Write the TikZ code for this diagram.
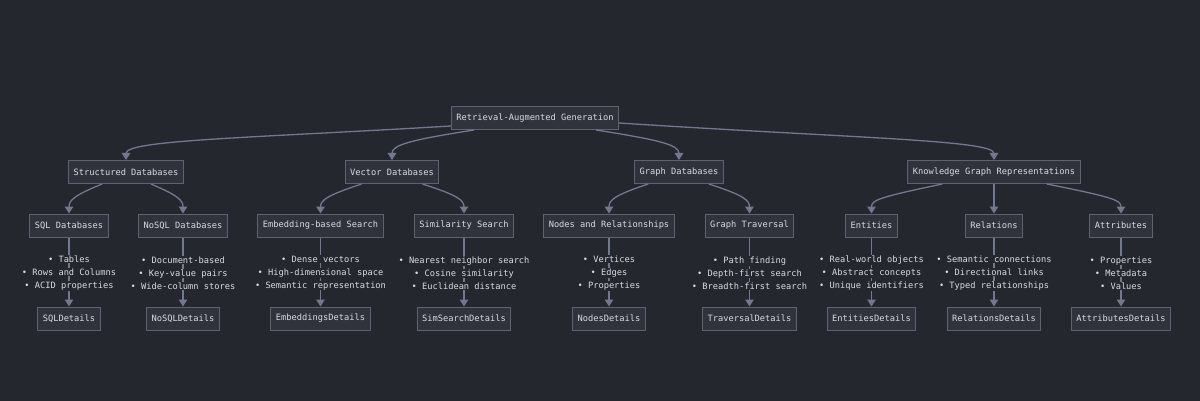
\documentclass[tikz,border=0pt]{standalone}
\usepackage{fontspec}
\setmonofont{DejaVu Sans Mono}
\usetikzlibrary{arrows.meta,calc}
\definecolor{bg}{HTML}{25272E}
\definecolor{boxfill}{HTML}{30323C}
\definecolor{boxline}{HTML}{5E6272}
\definecolor{txt}{HTML}{DADCE4}
\definecolor{edge}{HTML}{727890}
\setlength\fboxsep{0.6pt}
\newcommand\lbl[1]{\colorbox{bg}{#1}}
\tikzset{
  box/.style={draw=boxline, fill=boxfill, line width=1pt, text=txt,
    inner xsep=5pt, inner ysep=0pt, minimum height=23pt,
    font=\fontsize{8.7}{13}\selectfont\ttfamily},
  conn/.style={draw=edge, line width=1.3pt,
    -{Triangle[length=7pt,width=8.5pt]}},
  lbltext/.style={text=txt, align=center, inner sep=0pt,
    font=\fontsize{8.7}{13}\selectfont\ttfamily}
}
\begin{document}
\begin{tikzpicture}[x=1pt,y=-1pt]
\fill[bg] (0,0) rectangle (1200,401);
\useasboundingbox (0,0) rectangle (1200,401);
% nodes
\node[box] (root) at (535,118) {Retrieval-Augmented Generation};
\node[box] (sd) at (126,172) {Structured Databases};
\node[box] (vd) at (392,172) {Vector Databases};
\node[box] (gd) at (679,172) {Graph Databases};
\node[box] (kg) at (994,172) {Knowledge Graph Representations};
\node[box] (sql) at (69,225.5) {SQL Databases};
\node[box] (nosql) at (183,225.5) {NoSQL Databases};
\node[box] (emb) at (320.5,225.5) {Embedding-based Search};
\node[box] (sim) at (464,225.5) {Similarity Search};
\node[box] (nodes) at (609,225.5) {Nodes and Relationships};
\node[box] (trav) at (749.5,225.5) {Graph Traversal};
\node[box] (ent) at (871.5,225.5) {Entities};
\node[box] (rel) at (994,225.5) {Relations};
\node[box] (attr) at (1121,225.5) {Attributes};
\node[box] (sqld) at (69,318.5) {SQLDetails};
\node[box] (nosqld) at (183,318.5) {NoSQLDetails};
\node[box] (embd) at (320.5,318.5) {EmbeddingsDetails};
\node[box] (simd) at (464,318.5) {SimSearchDetails};
\node[box] (nodesd) at (609,318.5) {NodesDetails};
\node[box] (travd) at (749.5,318.5) {TraversalDetails};
\node[box] (entd) at (871.5,318.5) {EntitiesDetails};
\node[box] (reld) at (994,318.5) {RelationsDetails};
\node[box] (attrd) at (1121,318.5) {AttributesDetails};
% edges level 0 -> 1
\draw[conn] ($(root.west)+(0,8)$) .. controls (250,138) and (126,140) .. (sd.north);
\draw[conn] ([xshift=23pt]root.south west) .. controls (410,140) and (392,145) .. (vd.north);
\draw[conn] ([xshift=-23pt]root.south east) .. controls (660,140) and (679,145) .. (gd.north);
\draw[conn] ($(root.east)+(0,5)$) .. controls (850,138) and (994,140) .. (kg.north);
% level 1 -> 2
\draw[conn] ([xshift=34pt]sd.south west) .. controls (75,195) and (69,200) .. (sql.north);
\draw[conn] ([xshift=-33pt]sd.south east) .. controls (177,195) and (183,200) .. (nosql.north);
\draw[conn] ([xshift=17pt]vd.south west) .. controls (328,195) and (320.5,200) .. (emb.north);
\draw[conn] ([xshift=-17pt]vd.south east) .. controls (457,195) and (464,200) .. (sim.north);
\draw[conn] ([xshift=14pt]gd.south west) .. controls (615,195) and (609,200) .. (nodes.north);
\draw[conn] ([xshift=-15pt]gd.south east) .. controls (743,195) and (749.5,200) .. (trav.north);
\draw[conn] ([xshift=35pt]kg.south west) .. controls (880,197) and (871.5,200) .. (ent.north);
\draw[conn] (kg.south) -- (rel.north);
\draw[conn] ([xshift=-34pt]kg.south east) .. controls (1112,197) and (1121,200) .. (attr.north);
% level 2 -> 3
\draw[conn] (sql) -- (sqld);
\draw[conn] (nosql) -- (nosqld);
\draw[conn] (emb) -- (embd);
\draw[conn] (sim) -- (simd);
\draw[conn] (nodes) -- (nodesd);
\draw[conn] (trav) -- (travd);
\draw[conn] (ent) -- (entd);
\draw[conn] (rel) -- (reld);
\draw[conn] (attr) -- (attrd);
% labels
\node[lbltext] (l1) at (69,272.8) {\lbl{• Tables}\\\lbl{• Rows and Columns}\\\lbl{• ACID properties}};
\node[lbltext] (l2) at (183,272.8) {\lbl{• Document-based}\\\lbl{• Key-value pairs}\\\lbl{• Wide-column stores}};
\node[lbltext] (l3) at (320.5,272.8) {\lbl{• Dense vectors}\\\lbl{• High-dimensional space}\\\lbl{• Semantic representation}};
\node[lbltext] (l4) at (464,272.8) {\lbl{• Nearest neighbor search}\\\lbl{• Cosine similarity}\\\lbl{• Euclidean distance}};
\node[lbltext] (l5) at (609,272.8) {\lbl{• Vertices}\\\lbl{• Edges}\\\lbl{• Properties}};
\node[lbltext] (l6) at (749.5,272.8) {\lbl{• Path finding}\\\lbl{• Depth-first search}\\\lbl{• Breadth-first search}};
\node[lbltext] (l7) at (871.5,272.8) {\lbl{• Real-world objects}\\\lbl{• Abstract concepts}\\\lbl{• Unique identifiers}};
\node[lbltext] (l8) at (994,272.8) {\lbl{• Semantic connections}\\\lbl{• Directional links}\\\lbl{• Typed relationships}};
\node[lbltext] (l9) at (1121,272.8) {\lbl{• Properties}\\\lbl{• Metadata}\\\lbl{• Values}};
\end{tikzpicture}
\end{document}
